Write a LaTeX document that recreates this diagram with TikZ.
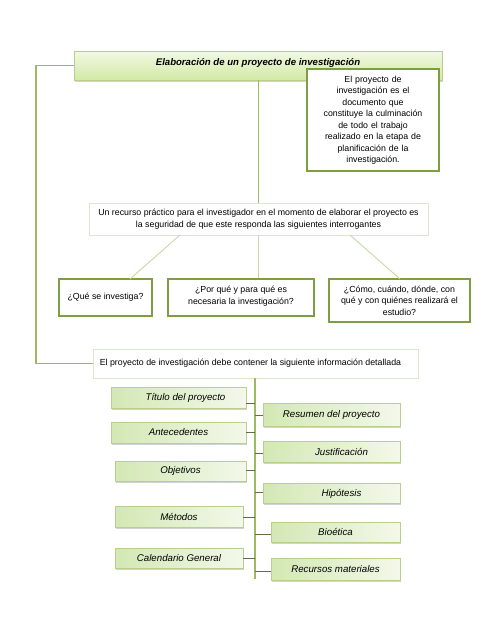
\documentclass[tikz,border=0pt]{standalone}
\usepackage{fontspec}
\setmainfont{Liberation Sans}
\usetikzlibrary{shadows}
\definecolor{gtop}{HTML}{F2F9E2}
\definecolor{gbot}{HTML}{D2E9A6}
\definecolor{gleft}{HTML}{D3E8B4}
\definecolor{gright}{HTML}{F3F8EA}
\definecolor{gborder}{HTML}{B9CF8E}
\definecolor{lborder}{HTML}{DCE6C8}
\definecolor{qborder}{HTML}{7E9E42}
\definecolor{spine}{HTML}{9FBA5E}
\definecolor{diag}{HTML}{C9D9A2}
\definecolor{tick}{HTML}{5F6E45}
\tikzset{
  x=1pt, y=-1pt,
  every node/.style={font=\fontsize{8.8}{11.5}\selectfont, inner sep=1pt, align=center},
  titlebox/.style={draw=gborder, top color=gtop, bottom color=gbot, line width=0.6pt,
    drop shadow={shadow xshift=1pt, shadow yshift=-1.5pt, opacity=0.35}},
  infobox/.style={draw=qborder, fill=white, line width=1.4pt,
    drop shadow={shadow xshift=1pt, shadow yshift=-1pt, opacity=0.25}},
  lightbox/.style={draw=lborder, fill=white, line width=0.8pt},
  qbox/.style={draw=qborder, fill=white, line width=1.4pt,
    drop shadow={shadow xshift=1pt, shadow yshift=-1pt, opacity=0.25}},
  itembox/.style={draw=gborder, left color=gleft, right color=gright, line width=0.5pt,
    font=\fontsize{9.7}{11}\selectfont\itshape,
    drop shadow={shadow xshift=1pt, shadow yshift=-1.5pt, opacity=0.35}},
  spineline/.style={draw=spine, line width=1.8pt},
  diagline/.style={draw=diag, line width=0.9pt},
  tickline/.style={draw=tick, line width=0.7pt},
}
\begin{document}
\begin{tikzpicture}
\useasboundingbox (0,0) rectangle (495,640);
\fill[white] (0,0) rectangle (495,640);

% top title box
\node[titlebox, minimum width=368pt, minimum height=29pt] (top) at (258,65.5)
  {\fontsize{9.6}{11}\selectfont\bfseries\itshape\raisebox{8pt}{Elaboración de un proyecto de investigación}};

\node[lightbox, minimum width=339pt, minimum height=32pt] (recurso) at (258.5,219)
  {Un recurso práctico para el investigador en el momento de elaborar el proyecto es\\la seguridad de que este responda las siguientes interrogantes};
\node[lightbox, minimum width=325pt, minimum height=29pt] (debe) at (255.5,363.5)
  {\hspace*{-10pt}El proyecto de investigación debe contener la siguiente información detallada};

\draw[spineline] (top.west) -- ++(-38,0) coordinate (lcorner) |- (debe.west);
\draw[draw=spine, line width=1.4pt] (top.south -| recurso.north) -- (recurso.north);

% info box overlapping the title box
\node[infobox, minimum width=132pt, minimum height=102pt, text width=124pt] (info) at (373,120)
  {El proyecto de\\investigación es el\\documento que\\constituye la culminación\\de todo el trabajo\\realizado en la etapa de\\planificación de la\\investigación.};

% questions
\node[qbox, minimum width=93pt, minimum height=37pt] (q1) at (105.5,297.5) {\raisebox{2pt}{¿Qué se investiga?}};
\node[qbox, minimum width=146pt, minimum height=37pt] (q2) at (241,297.5) {\raisebox{4pt}{\shortstack{¿Por qué y para qué es\\[0.5pt]necesaria la investigación?}}};
\node[qbox, minimum width=141pt, minimum height=43pt] (q3) at (399.5,300.5) {¿Cómo, cuándo, dónde, con\\qué y con quiénes realizará el\\estudio?};

\coordinate (d1a) at (180,235);
\coordinate (d1b) at (130,279);
\coordinate (d2a) at (258.5,235);
\coordinate (d3a) at (350,235);
\coordinate (d3b) at (400,279);
\draw[diagline] (d1a) -- (d1b);
\draw[diagline] (d2a) -- (d2a |- q2.north);
\draw[diagline] (d3a) -- (d3b);

% spine
\coordinate (sp0) at (255,378);
\coordinate (sp1) at (255,579);
\draw[draw=spine, line width=1.2pt] (sp0) -- (sp1);

% left items
\node[itembox, minimum width=135pt, minimum height=21pt] (it1) at (178.5,397.5) {\hspace*{14pt}Título del proyecto};
\node[itembox, minimum width=135pt, minimum height=21pt] (it2) at (178.5,432.5) {Antecedentes};
\node[itembox, minimum width=131pt, minimum height=20pt] (it3) at (180.5,471) {Objetivos};
\node[itembox, minimum width=128pt, minimum height=21pt] (it4) at (179,516.5) {Métodos};
\node[itembox, minimum width=128pt, minimum height=20pt] (it5) at (179,558) {Calendario General};
% right items
\node[itembox, minimum width=137pt, minimum height=23pt] (ir1) at (331.5,414.5) {Resumen del proyecto};
\node[itembox, minimum width=137pt, minimum height=21pt] (ir2) at (331.5,451.5) {\hspace*{20pt}Justificación};
\node[itembox, minimum width=137pt, minimum height=20pt] (ir3) at (331.5,493.5) {\hspace*{20pt}Hipótesis};
\node[itembox, minimum width=129pt, minimum height=20pt] (ir4) at (335.5,532) {Bioética};
\node[itembox, minimum width=129pt, minimum height=22pt] (ir5) at (335.5,569) {Recursos materiales};

% ticks
\coordinate (tl1) at (255,403);
\coordinate (tl2) at (255,432);
\coordinate (tl3) at (255,470);
\coordinate (tl4) at (255,517);
\coordinate (tl5) at (255,558);
\coordinate (tr1) at (255,415);
\coordinate (tr2) at (255,453);
\coordinate (tr3) at (255,492);
\coordinate (tr4) at (255,534);
\coordinate (tr5) at (255,571);
\draw[tickline] (tl1) -- (tl1 -| it1.east);
\draw[tickline] (tl2) -- (tl2 -| it2.east);
\draw[tickline] (tl3) -- (tl3 -| it3.east);
\draw[tickline] (tl4) -- (tl4 -| it4.east);
\draw[tickline] (tl5) -- (tl5 -| it5.east);
\draw[tickline] (tr1) -- (tr1 -| ir1.west);
\draw[tickline] (tr2) -- (tr2 -| ir2.west);
\draw[tickline] (tr3) -- (tr3 -| ir3.west);
\draw[tickline] (tr4) -- (tr4 -| ir4.west);
\draw[tickline] (tr5) -- (tr5 -| ir5.west);
\end{tikzpicture}
\end{document}
